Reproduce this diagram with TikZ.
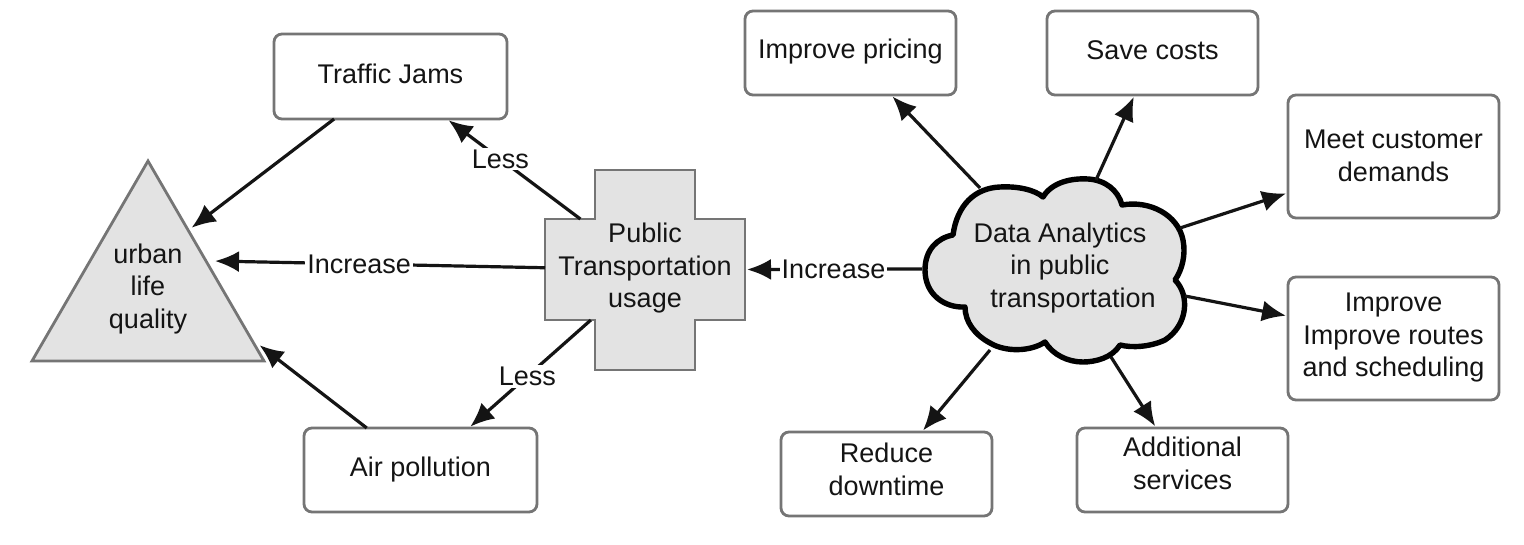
\documentclass[tikz,border=0pt]{standalone}
\usepackage{fontspec}
\setmainfont{Liberation Sans}
\usetikzlibrary{arrows.meta,shapes.geometric}
\definecolor{ink}{HTML}{141414}
\definecolor{edgegrey}{HTML}{757575}
\definecolor{shade}{HTML}{E3E3E3}
\newcommand{\lowerpad}[1]{\rule[-#1]{0pt}{0pt}}
\tikzset{
  x=0.5pt,y=-0.5pt,
  every node/.style={font=\fontsize{13.5}{16.3}\selectfont,text=ink,align=center,outer sep=0pt},
  box/.style={draw=edgegrey,line width=1.4pt,rounded corners=4pt,fill=white,inner sep=0pt,minimum width=#1},
  link/.style={draw=ink,line width=1.6pt,-{Latex[length=12pt,width=10.5pt]},shorten >=1pt},
  tag/.style={fill=white,inner sep=1pt},
}
\begin{document}
\begin{tikzpicture}
\useasboundingbox[fill=white] (0,0) rectangle (1524,545);
% boxes
\node[box=116.5pt,minimum height=42.5pt] (jams) at (390.5,76.5) {Traffic Jams\lowerpad{3pt}};
\node[box=116.5pt,minimum height=42pt] (air) at (420.5,470) {Air pollution};
\node[box=105.5pt,minimum height=42pt] (pricing) at (850.5,53) {Improve pricing\lowerpad{3.8pt}};
\node[box=105.5pt,minimum height=42pt] (costs) at (1152.5,53) {Save costs\lowerpad{3pt}};
\node[box=105.5pt,minimum height=61.5pt] (demands) at (1393.5,156.5) {Meet customer\\demands\lowerpad{0.5pt}};
\node[box=105.5pt,minimum height=61.5pt] (routes) at (1393.5,338.5) {Improve\\Improve routes\\and scheduling\lowerpad{3.5pt}};
\node[box=105.5pt,minimum height=42pt] (downtime) at (886.5,474) {Reduce\\downtime\lowerpad{5pt}};
\node[box=105.5pt,minimum height=42pt] (services) at (1182.5,470) {Additional\\services\lowerpad{7pt}};
% triangle
\node[isosceles triangle,isosceles triangle stretches,shape border rotate=90,
  minimum width=116pt,minimum height=100pt,inner sep=0pt,anchor=apex,
  draw=edgegrey,line width=1.4pt,fill=shade] (tri) at (148,161) {};
\node (trilabel) at (148,289) {urban\\life\\quality};
% cross
\draw[draw=edgegrey,line width=1.4pt,fill=shade]
  (595,170) -- (695,170) -- (695,219) -- (745,219) -- (745,320) -- (695,320)
  -- (695,370) -- (595,370) -- (595,320) -- (545,320) -- (545,219) -- (595,219) -- cycle;
\node[minimum width=100pt,minimum height=50.5pt,inner sep=0pt] (usage) at (645,269.5) {Public\\Transportation\\usage\lowerpad{4pt}};
% cloud
\draw[draw=black,line width=2.7pt,fill=shade,line join=round]
  (953,235) .. controls (957,205) and (975,188) .. (1000,187)
  .. controls (1018,186) and (1035,190) .. (1043,197)
  .. controls (1052,182) and (1072,178) .. (1088,179)
  .. controls (1105,180) and (1118,190) .. (1122,205)
  .. controls (1150,200) and (1178,215) .. (1183,240)
  .. controls (1186,255) and (1182,270) .. (1175,280)
  .. controls (1190,295) and (1188,325) .. (1165,340)
  .. controls (1150,347) and (1132,348) .. (1120,345)
  .. controls (1112,358) and (1095,362) .. (1083,362)
  .. controls (1068,362) and (1053,355) .. (1045,342)
  .. controls (1030,352) and (1005,352) .. (990,343)
  .. controls (975,335) and (965,322) .. (965,307)
  .. controls (945,308) and (925,295) .. (925,270)
  .. controls (925,250) and (937,238) .. (953,235) -- cycle;
\node (analytics) at (1060,268) {Data Analytics\\in public\\\hspace*{13pt}transportation};
% attachment points on the cloud and the triangle
\coordinate (cPricing) at (980,188);
\coordinate (cCosts) at (1096,180);
\coordinate (cDemands) at (1180,228);
\coordinate (cRoutes) at (1185,296);
\coordinate (cDowntime) at (990,350);
\coordinate (cServices) at (1111,357);
\coordinate (cUsage) at (922,269);
\coordinate (triTop) at (190,229);
\coordinate (triMid) at (213,261);
\coordinate (triLow) at (258,344);
% connectors
\draw[link] (jams.217.4) -- (triTop);
\draw[link] (air.142.4) -- (triLow);
\draw[link] (usage.179) -- node[tag,pos=.56] {Increase} (triMid);
\draw[link] (usage.142.2) -- node[tag,pos=.6] {Less} (jams.-37.3);
\draw[link] (usage.223.2) -- node[tag,pos=.52] {Less} (air.41.7);
\draw[link] (cUsage) -- node[tag,pos=.5] {Increase} (usage.east);
\draw[link] (cPricing) -- (pricing.-46.6);
\draw[link] (cCosts) -- (costs.-113.4);
\draw[link] (cDemands) -- (demands.199.6);
\draw[link] (cRoutes) -- (routes.168.4);
\draw[link] (cDowntime) -- (downtime.50.9);
\draw[link] (cServices) -- (services.122.7);
\end{tikzpicture}
\end{document}
